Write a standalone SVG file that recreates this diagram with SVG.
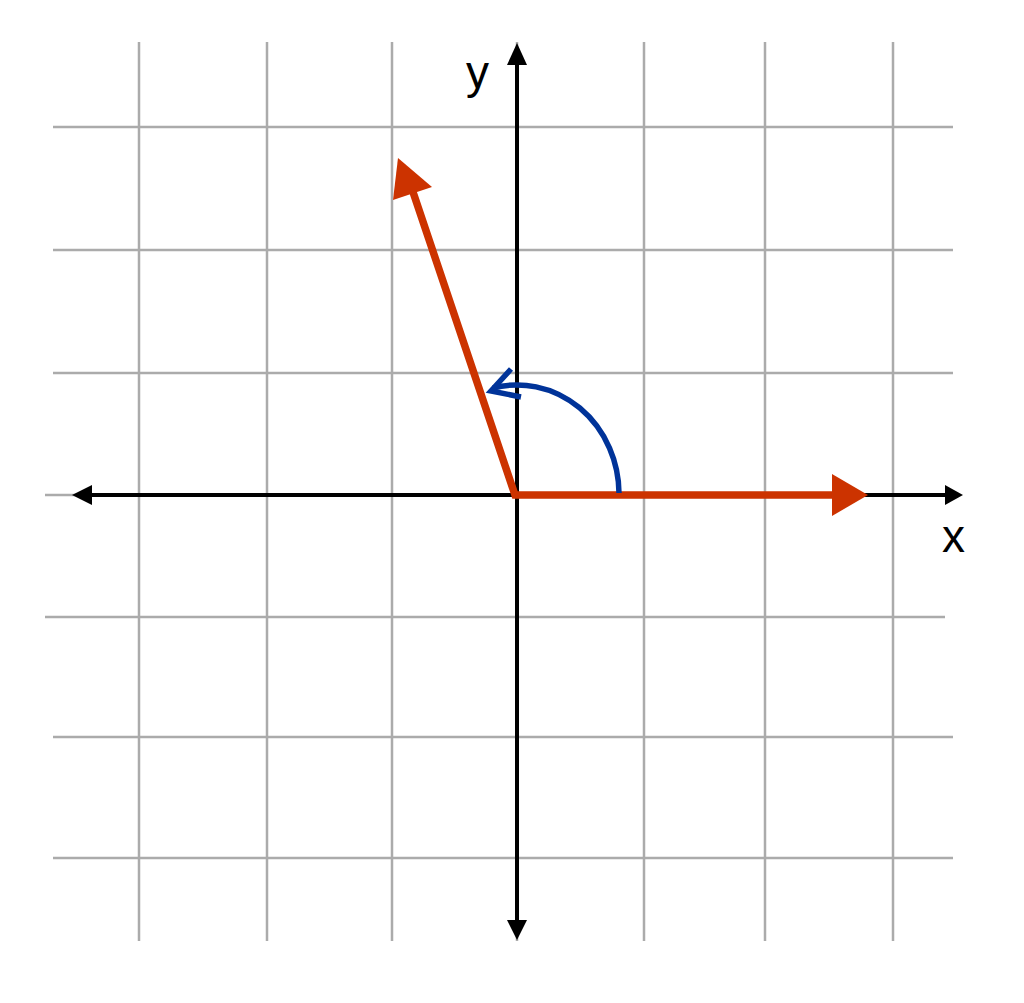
<svg xmlns="http://www.w3.org/2000/svg" width="1024" height="1003" viewBox="0 0 1024 1003">
<style>
.grid line{stroke:#ababab;stroke-width:2.5}
.axis{stroke:#000;stroke-width:4;fill:none}
.ah{fill:#000}
.red{stroke:#cc3300;stroke-width:7.5;fill:none;stroke-linejoin:miter;stroke-miterlimit:20}
.redh{fill:#cc3300}
.blue{stroke:#003399;stroke-width:5.5;fill:none}
.lbl{font-family:"Liberation Sans",Arial,sans-serif;font-size:46px;fill:#000}
</style>
<rect width="1024" height="1003" fill="#fff"/>
<g id="grid" class="grid">
<line x1="139" y1="42" x2="139" y2="941"/>
<line x1="267" y1="42" x2="267" y2="941"/>
<line x1="392" y1="42" x2="392" y2="941"/>
<line x1="517" y1="42" x2="517" y2="941"/>
<line x1="644" y1="42" x2="644" y2="941"/>
<line x1="765" y1="42" x2="765" y2="941"/>
<line x1="893" y1="42" x2="893" y2="941"/>
<line x1="53" y1="127" x2="953" y2="127"/>
<line x1="53" y1="250" x2="953" y2="250"/>
<line x1="53" y1="373" x2="953" y2="373"/>
<line x1="45" y1="495" x2="945" y2="495"/>
<line x1="45" y1="617" x2="945" y2="617"/>
<line x1="53" y1="737" x2="953" y2="737"/>
<line x1="53" y1="858" x2="953" y2="858"/>
</g>
<g id="axes">
<line class="axis" x1="90" y1="495" x2="948" y2="495"/>
<polygon class="ah" points="963,495 945,485 945,505"/>
<polygon class="ah" points="72,495 92,485 92,505"/>
<line class="axis" x1="517" y1="63" x2="517" y2="922"/>
<polygon class="ah" points="517,43 507,65 527,65"/>
<polygon class="ah" points="517,940 507,920 527,920"/>
</g>
<g id="labels">
<text class="lbl" x="466" y="88">y</text>
<text class="lbl" x="942" y="552">x</text>
</g>
<g id="connectors">
<polyline id="vectors" class="red" points="413,192 515,495 836,495"/>
<polygon class="redh" points="398,158 393,200 432,187"/>
<polygon class="redh" points="868,495 832,474 832,516"/>
<path id="angle-arc" class="blue" d="M619,493 A102,109 0 0 0 493,388"/>
<polyline class="blue" points="511,369 491,391 521,397"/>
</g>
</svg>
